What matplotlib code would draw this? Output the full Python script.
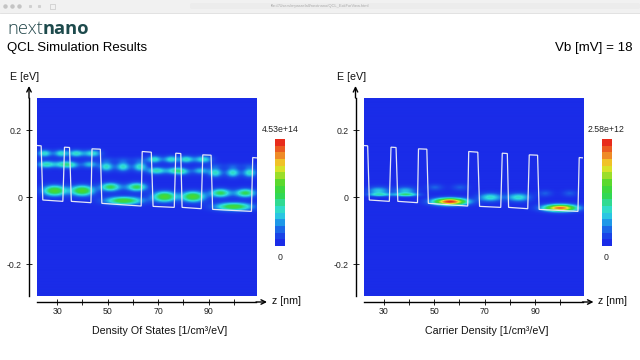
import numpy as np
import matplotlib
matplotlib.use("Agg")
import matplotlib.pyplot as plt
from matplotlib.colors import LinearSegmentedColormap, Normalize
from matplotlib.patches import Rectangle, FancyBboxPatch

plt.rcParams['font.family'] = ['Liberation Sans', 'DejaVu Sans']

W, H = 640, 360
# band edge (conduction band profile)
band_z = [22, 23.65, 24.3, 32.25, 32.9, 34.9, 35.6, 43.4, 43.8, 47.1, 47.7, 63.3, 63.7, 67.3,
          68.0, 76.4, 77.0, 79.0, 79.5, 87.1, 87.7, 91.0, 91.6, 107, 107.5, 109]
band_e = [.155, .154, -.008, -.012, .150, .149, -.012, -.016, .145, .144, -.018, -.026, .137, .135,
          -.027, -.030, .132, .131, -.030, -.034, .127, .126, -.036, -.042, .119, .118]

# density of states: peak position, widths, height (fraction of maximum)
dos_z = [24.8, 31.5, 37.4, 43.8, 25.5, 32.5, 36.0, 42.8, 49.4, 56.0, 62.7, 49.4, 56.0, 62.7,
         68.5, 75.1, 81.1, 87.8, 69.3, 76.8, 80.0, 86.8, 92.7, 99.6, 106.3, 92.7, 99.6, 106.3,
         28.8, 39.8, 51.0, 61.4, 56.3, 72.5, 83.8, 94.7, 104.6, 100.0]
dos_e = [.132, .132, .132, .132, .099, .099, .097, .099, .092, .092, .092, .113, .113, .113,
         .114, .114, .114, .114, .080, .080, .077, .080, .074, .074, .074, .095, .095, .095,
         .020, .020, .031, .031, -.010, .002, .002, .013, .013, -.028]
dos_sz = [2.0, 2.0, 2.0, 2.4, 2.5, 2.5, 2.0, 2.2, 1.9, 1.9, 1.9, 2.2, 2.2, 2.2,
          2.0, 2.0, 2.0, 2.4, 2.5, 2.5, 2.0, 2.2, 1.9, 1.9, 1.9, 2.2, 2.2, 2.2,
          3.2, 3.2, 2.8, 2.8, 5.0, 3.2, 3.2, 2.8, 2.8, 5.0]
dos_se = [.0075, .0075, .0075, .0075, .0075, .0075, .0075, .0075, .0095, .0095, .0095, .006, .006, .006,
          .0075, .0075, .0075, .0075, .0075, .0075, .0075, .0075, .0095, .0095, .0095, .006, .006, .006,
          .011, .011, .009, .009, .0085, .011, .011, .009, .009, .0085]
dos_a = [.33, .33, .33, .33, .36, .36, .20, .26, .34, .34, .34, .09, .09, .09,
         .33, .33, .33, .33, .36, .36, .20, .26, .34, .34, .34, .09, .09, .09,
         .58, .58, .47, .47, .55, .58, .58, .47, .47, .55]

# carrier density: peak position, widths, height (fraction of maximum)
car_z = [27.5, 38.2, 28.0, 38.6, 50.0, 60.0, 56.0, 72.0, 83.2, 93.8, 103.5, 99.8]
car_e = [.020, .020, .008, .008, .030, .030, -.013, .000, .000, .012, .012, -.032]
car_sz = [3.0, 3.0, 3.4, 3.4, 2.2, 2.2, 4.6, 3.2, 3.2, 2.0, 2.0, 4.6]
car_se = [.0085, .0085, .004, .004, .007, .007, .0075, .009, .009, .007, .007, .0075]
car_a = [.27, .25, .26, .34, .13, .12, 1.0, .33, .33, .12, .12, .92]

dos_max = 4.53e14
car_max = 2.58e12

z_ticks = [30, 40, 50, 60, 70, 80, 90, 100]
z_labels = ['30', '', '50', '', '70', '', '90', '']
e_ticks = [-0.2, 0, 0.2]
e_labels = ['-0.2', '0', '0.2']
z_lim = (22.0, 109.0)
e_lim = (-0.295, 0.297)

cmap = LinearSegmentedColormap.from_list('qcl', [
    (0.00, '#1a2ce8'), (0.10, '#1a50e8'), (0.20, '#1e98e8'), (0.30, '#30dde0'), (0.37, '#30dcb0'),
    (0.46, '#30d858'), (0.58, '#48d830'), (0.68, '#a8e028'), (0.76, '#f0e428'), (0.86, '#f09028'),
    (1.00, '#e82c1c')])


def rect(x0, y0, x1, y1):
    return [x0 / W, 1 - y1 / H, (x1 - x0) / W, (y1 - y0) / H]


def field(zc, ec, sz, se, amp, vmax):
    zz, ee = np.meshgrid(np.linspace(*z_lim, 220), np.linspace(*e_lim, 200))
    out = np.zeros_like(zz)
    for a, b, c, d, f in zip(zc, ec, sz, se, amp):
        out += f * np.exp(-(zz - a) ** 2 / (2 * c ** 2) - (ee - b) ** 2 / (2 * d ** 2))
    return out * vmax


fig = plt.figure(figsize=(6.4, 3.6), dpi=100, facecolor='white')
bg = fig.add_axes([0, 0, 1, 1], zorder=0)
bg.set_xlim(0, W)
bg.set_ylim(H, 0)
bg.axis('off')

# browser bar
bg.add_patch(Rectangle((0, 0), W, 12.5, fc='#f1f1f1', ec='none'))
bg.plot([0, W], [12.5, 12.5], color='#dddddd', lw=0.6)
bg.add_patch(FancyBboxPatch((190, 3), 450, 6, boxstyle='round,pad=0,rounding_size=2', fc='#ececec', ec='none'))
for x in (5, 12, 19):
    bg.plot([x], [6], 'o', ms=2.2, color='#c4c4c4')
for x in (30, 39):
    bg.plot([x], [6], 's', ms=1.2, color='#d0d0d0')
bg.add_patch(Rectangle((50, 3.5), 5, 5, fc='none', ec='#c8c8c8', lw=0.5))
bg.text(320, 6, 'file:///Users/mparzefall/nextnano/QCL_ExitForView.html', fontsize=2.9, color='#aaaaaa',
        ha='center', va='center')

# heading
t = bg.text(7, 28.5, 'next', fontsize=13.2, color='#24484c', va='center', ha='left', family='Open Sans', fontweight='light')
fig.canvas.draw()
bb = t.get_window_extent()
bg.text(bb.x1 - 0.5, 28.5, 'nano', fontsize=13.2, color='#1d4a4c', va='center', ha='left', family='Open Sans', fontweight='bold')
bg.text(7, 47.5, 'QCL Simulation Results', fontsize=9.5, color='black', va='center', ha='left')
bg.text(633, 48, 'Vb [mV] = 18', fontsize=9.6, color='black', va='center', ha='right')

panels = [
    (37, dos_z, dos_e, dos_sz, dos_se, dos_a, dos_max, '4.53e+14', 'Density Of States [1/cm³/eV]'),
    (363.5, car_z, car_e, car_sz, car_se, car_a, car_max, '2.58e+12', 'Carrier Density [1/cm³/eV]'),
]
for x0, zc, ec, sz, se, amp, vmax, top, title in panels:
    ax = fig.add_axes(rect(x0, 98, x0 + 219.5, 296), zorder=2)
    im = ax.imshow(field(zc, ec, sz, se, amp, vmax), origin='lower', extent=(*z_lim, *e_lim), aspect='auto',
                   cmap=cmap, norm=Normalize(0, vmax), interpolation='bilinear')
    ax.plot(band_z, band_e, color='#e4e6f6', lw=0.9, solid_joinstyle='miter')
    ax.set_xlim(*z_lim)
    ax.set_ylim(*e_lim)
    for s in ('top', 'right'):
        ax.spines[s].set_visible(False)
    ax.spines['left'].set_position(('outward', 8 * 0.72))
    ax.spines['bottom'].set_position(('outward', 6 * 0.72))
    ax.spines['left'].set_linewidth(1.0)
    ax.spines['bottom'].set_linewidth(1.0)
    ax.set_xticks(z_ticks, z_labels)
    ax.set_yticks(e_ticks, e_labels)
    ax.tick_params(axis='both', direction='inout', length=4, width=0.7, labelsize=6.3, pad=3, colors='#222222')
    ax.tick_params(axis='x', pad=1.5)

    bg.annotate('', xy=(x0 - 8, 86), xytext=(x0 - 8, 98), arrowprops=dict(arrowstyle='->', lw=1.0, color='black',
                                                                     shrinkA=0, shrinkB=0, mutation_scale=8))
    bg.annotate('', xy=(x0 + 230, 302), xytext=(x0 + 219, 302), arrowprops=dict(arrowstyle='->', lw=1.0, color='black',
                                                                          shrinkA=0, shrinkB=0, mutation_scale=8))
    bg.text(x0 - 12, 77, 'E [eV]', fontsize=7.7, ha='center', va='center', color='#111111')
    bg.text(x0 + 249, 301, 'z [nm]', fontsize=7.7, ha='center', va='center', color='#111111')
    bg.text(x0 + 123, 331, title, fontsize=7.7, ha='center', va='center', color='#111111')

    cx = x0 + 238
    cax = fig.add_axes(rect(cx, 139, cx + 10, 246), zorder=2)
    cax.imshow(np.linspace(0, vmax, 16)[:, None], origin='lower', aspect='auto', cmap=cmap, norm=Normalize(0, vmax),
               interpolation='nearest')
    cax.axis('off')
    bg.text(cx + 5, 130, top, fontsize=6.3, ha='center', va='center', color='#222222')
    bg.text(cx + 5, 257, '0', fontsize=6.3, ha='center', va='center', color='#222222')

fig.savefig('out.png', dpi=100, facecolor='white')
